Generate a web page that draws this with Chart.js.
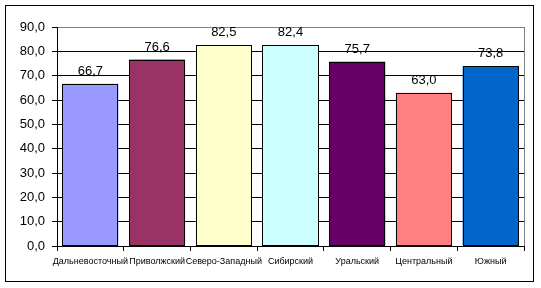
<!DOCTYPE html>
<html>
<head>
<meta charset="utf-8">
<script src="https://cdn.jsdelivr.net/npm/chart.js@4"></script>
<style>
  body { margin: 0; background: #fff; }
</style>
</head>
<body>
<canvas id="chart" width="541" height="288"></canvas>
<script>
const regions = ["Дальневосточный", "Приволжский", "Северо-Западный", "Сибирский", "Уральский", "Центральный", "Южный"];
const values = [66.7, 76.6, 82.5, 82.4, 75.7, 63.0, 73.8];
const barColors = ["#9999ff", "#993366", "#ffffcc", "#ccffff", "#660066", "#ff8080", "#0066cc"];
const yTicks = [0, 10, 20, 30, 40, 50, 60, 70, 80, 90];

const fmt = (v) => v.toFixed(1).replace(".", ",");

// outer frame + grey right edge of plot area
const framePlugin = {
  id: "frame",
  afterDraw(chart) {
    const ctx = chart.ctx;
    const area = chart.chartArea;
    ctx.save();
    ctx.strokeStyle = "#808080";
    ctx.lineWidth = 1;
    ctx.beginPath();
    ctx.moveTo(Math.round(area.right) + 0.5, area.top);
    ctx.lineTo(Math.round(area.right) + 0.5, area.bottom);
    ctx.stroke();
    ctx.strokeStyle = "#000";
    ctx.strokeRect(5.5, 5.5, 528, 276);
    ctx.restore();
  }
};

// crisp black outlines + value labels above bars
const labelPlugin = {
  id: "valueLabels",
  afterDatasetsDraw(chart) {
    const ctx = chart.ctx;
    ctx.save();
    ctx.strokeStyle = "#000";
    ctx.lineWidth = 1;
    chart.getDatasetMeta(0).data.forEach((bar) => {
      const l = Math.round(bar.x - bar.width / 2) + 0.5;
      const r = Math.round(bar.x + bar.width / 2) - 0.5;
      const t = Math.round(bar.y) + 0.5;
      const b = Math.round(bar.base) - 0.5;
      ctx.strokeRect(l, t, r - l, b - t);
    });
    ctx.font = "13px Arial";
    ctx.fillStyle = "#000";
    ctx.textAlign = "center";
    ctx.textBaseline = "alphabetic";
    chart.getDatasetMeta(0).data.forEach((bar, i) => {
      ctx.fillText(fmt(values[i]), bar.x, bar.y - 9);
    });
    ctx.restore();
  }
};

new Chart(document.getElementById("chart"), {
  type: "bar",
  data: {
    labels: regions,
    datasets: [{
      data: values,
      backgroundColor: barColors,
      borderWidth: 0,
      barPercentage: 0.84,
      categoryPercentage: 1
    }]
  },
  options: {
    responsive: false,
    animation: false,
    layout: { padding: { left: 0, right: 17, top: 27, bottom: 0 } },
    plugins: {
      legend: { display: false },
      tooltip: { enabled: false }
    },
    scales: {
      x: {
        grid: { display: true, drawOnChartArea: false, color: "#000", tickLength: 5, offset: true },
        border: { color: "#000" },
        ticks: {
          autoSkip: false,
          maxRotation: 0,
          minRotation: 0,
          padding: 5,
          color: "#000",
          font: { family: "Arial", size: 9 }
        },
        afterFit(scale) { scale.height = 42; }
      },
      y: {
        min: 0,
        max: 90,
        afterBuildTicks(scale) { scale.ticks = yTicks.map((v) => ({ value: v })); },
        grid: {
          color: (c) => (c.tick && c.tick.value === 90 ? "#808080" : "#000"),
          tickColor: "#000",
          tickLength: 5
        },
        border: { color: "#000" },
        ticks: {
          padding: 7,
          color: "#000",
          font: { family: "Arial", size: 13 },
          callback: (v) => fmt(v)
        },
        afterFit(scale) { scale.width = 57; }
      }
    }
  },
  plugins: [framePlugin, labelPlugin]
});
</script>
</body>
</html>
